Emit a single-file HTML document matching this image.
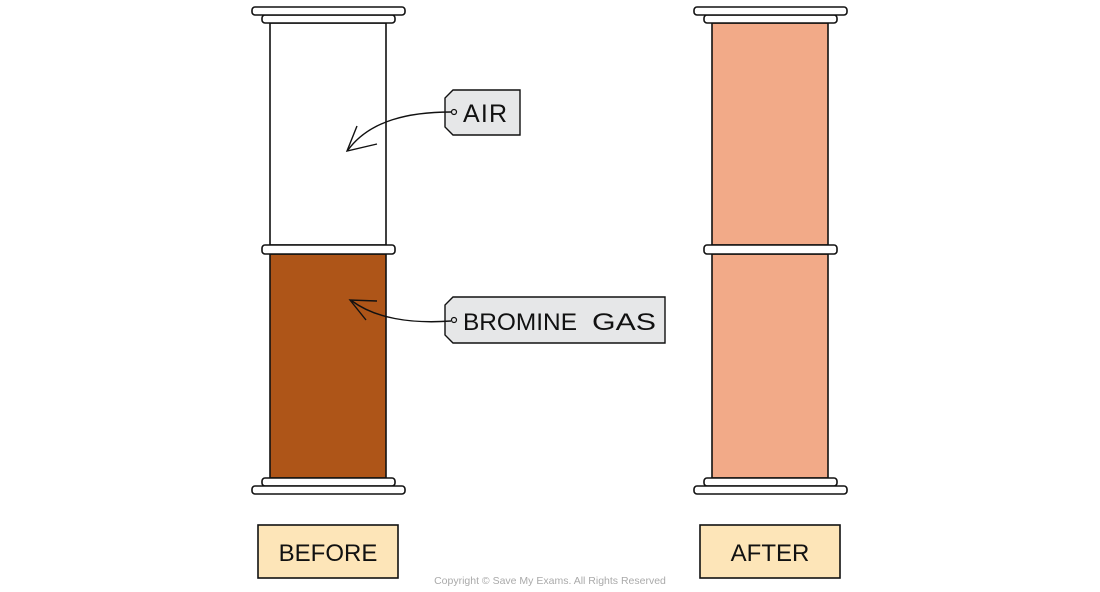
<!DOCTYPE html>
<html><head><style>
body{margin:0;background:#fff;}
svg{display:block}
text{font-family:"Liberation Sans",sans-serif;}
</style></head><body>
<svg width="1100" height="592" viewBox="0 0 1100 592" xmlns="http://www.w3.org/2000/svg">
<defs>
<g id="jar">
<rect x="262" y="478" width="133" height="8" rx="3" fill="#fff" stroke="#111" stroke-width="1.6"/>
<rect x="252" y="486" width="153" height="8" rx="3" fill="#fff" stroke="#111" stroke-width="1.6"/>
<rect x="262" y="245" width="133" height="9" rx="3" fill="#fff" stroke="#111" stroke-width="1.6"/>
<rect x="262" y="15" width="133" height="8" rx="3" fill="#fff" stroke="#111" stroke-width="1.6"/>
<rect x="252" y="7" width="153" height="8" rx="3" fill="#fff" stroke="#111" stroke-width="1.6"/>
</g>
</defs>
<rect x="270" y="23" width="116" height="222" fill="#fff" stroke="#111" stroke-width="1.6"/>
<rect x="270" y="254" width="116" height="224" fill="#ae5518" stroke="#111" stroke-width="1.6"/>
<use href="#jar"/>
<rect x="712" y="23" width="116" height="222" fill="#f2aa88" stroke="#111" stroke-width="1.6"/>
<rect x="712" y="254" width="116" height="224" fill="#f2aa88" stroke="#111" stroke-width="1.6"/>
<use href="#jar" transform="translate(442,0)"/>
<path d="M453 90 H520 V135 H453 L445 127 V98 Z" fill="#e6e7e8" stroke="#111" stroke-width="1.4"/>
<circle cx="454" cy="112" r="2.5" fill="none" stroke="#111" stroke-width="1.2"/>
<text x="463" y="122" font-size="25" fill="#111" textLength="44">AIR</text>
<path d="M451 112 C410 112 370 120 348 150" fill="none" stroke="#111" stroke-width="1.4"/>
<path d="M357 126 L347 151 L377 144" fill="none" stroke="#111" stroke-width="1.4"/>
<path d="M453 297 H665 V343 H453 L445 335 V305 Z" fill="#e6e7e8" stroke="#111" stroke-width="1.4"/>
<circle cx="454" cy="320" r="2.5" fill="none" stroke="#111" stroke-width="1.2"/>
<text x="463" y="330" font-size="24" fill="#111" textLength="114" lengthAdjust="spacingAndGlyphs">BROMINE</text>
<text x="592" y="330" font-size="24" fill="#111" textLength="64" lengthAdjust="spacingAndGlyphs">GAS</text>
<path d="M451 321 C410 324 375 318 352 301" fill="none" stroke="#111" stroke-width="1.4"/>
<path d="M377 301 L350 300 L366 320" fill="none" stroke="#111" stroke-width="1.4"/>
<rect x="258" y="525" width="140" height="53" fill="#fde5b8" stroke="#111" stroke-width="1.6"/>
<text x="328" y="561" font-size="24" text-anchor="middle" fill="#111">BEFORE</text>
<rect x="700" y="525" width="140" height="53" fill="#fde5b8" stroke="#111" stroke-width="1.6"/>
<text x="770" y="561" font-size="24" text-anchor="middle" fill="#111">AFTER</text>
<text x="550" y="584" font-size="10.5" text-anchor="middle" fill="#aaa">Copyright © Save My Exams. All Rights Reserved</text>
</svg>
</body></html>
